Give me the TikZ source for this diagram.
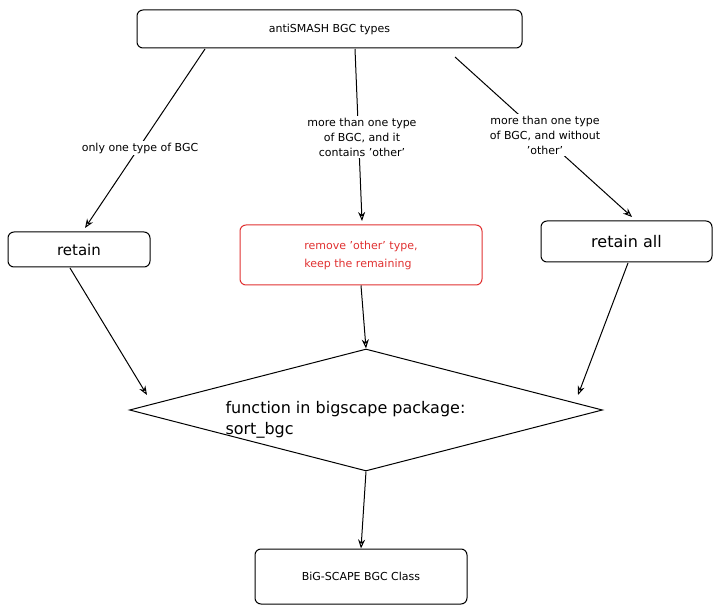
\documentclass[tikz,border=0pt]{standalone}
\usepackage{fontspec}
\setmainfont{DejaVu Sans}
\usetikzlibrary{shapes.geometric,arrows.meta}
\tikzset{
  box/.style={draw, rounded corners=6pt, line width=1pt, inner sep=0pt},
  arr/.style={-{Stealth[length=9pt,width=7pt,open]}, line width=1pt},
  lbl/.style={fill=white, align=center, font=\fontsize{11}{15}\selectfont, inner sep=2pt},
}
\definecolor{redline}{RGB}{224,49,49}
\begin{document}
\begin{tikzpicture}[x=1pt,y=-1pt]
  \useasboundingbox (0,0) rectangle (720,609);

  \node[box, minimum width=385pt, minimum height=38pt, font=\fontsize{11}{13}\selectfont] (types) at (329.5,29) {antiSMASH BGC types};
  \node[box, minimum width=142pt, minimum height=35pt, font=\fontsize{15}{17}\selectfont] (retain) at (79,249.5) {retain};
  \node[box, draw=redline, minimum width=242pt, minimum height=60pt, text=redline, align=left, font=\fontsize{11}{18}\selectfont] (remove) at (361,255) {remove 'other' type,\\keep the remaining};
  \node[box, minimum width=171pt, minimum height=41pt, font=\fontsize{16}{18}\selectfont] (all) at (626.5,241.5) {retain all};
  \node[diamond, draw, line width=1pt, minimum width=473pt, minimum height=122pt, aspect=3.9, inner sep=0pt] (sort) at (366,410) {};
  \node[align=left, anchor=west, font=\fontsize{16}{21}\selectfont] (sorttxt) at (222,420) {function in bigscape package:\\sort\_bgc};
  \node[box, minimum width=212pt, minimum height=55pt, font=\fontsize{11}{13}\selectfont] (cls) at (361,576.5) {BiG-SCAPE BGC Class};

  \coordinate (t1) at (205,49);
  \coordinate (t2) at (355,49);
  \coordinate (t3) at (455,57);
  \coordinate (s1) at (147,395);
  \coordinate (s3) at (578,395);

  \draw[arr] (t1) -- (85,228);
  \draw[arr] (t2) -- (362,221);
  \draw[arr] (t3) -- (632,217);
  \draw[arr] (70,268) -- (s1);
  \draw[arr] (remove.south) -- (sort.north);
  \draw[arr] (628,263) -- (s3);
  \draw[arr] (sort.south) -- (cls.north);

  \node[lbl] (l1) at (140,148) {only one type of BGC};
  \node[lbl] (l2) at (362,137) {more than one type\\of BGC, and it\\contains 'other'};
  \node[lbl] (l3) at (545,135) {more than one type\\of BGC, and without\\'other'};
\end{tikzpicture}
\end{document}
